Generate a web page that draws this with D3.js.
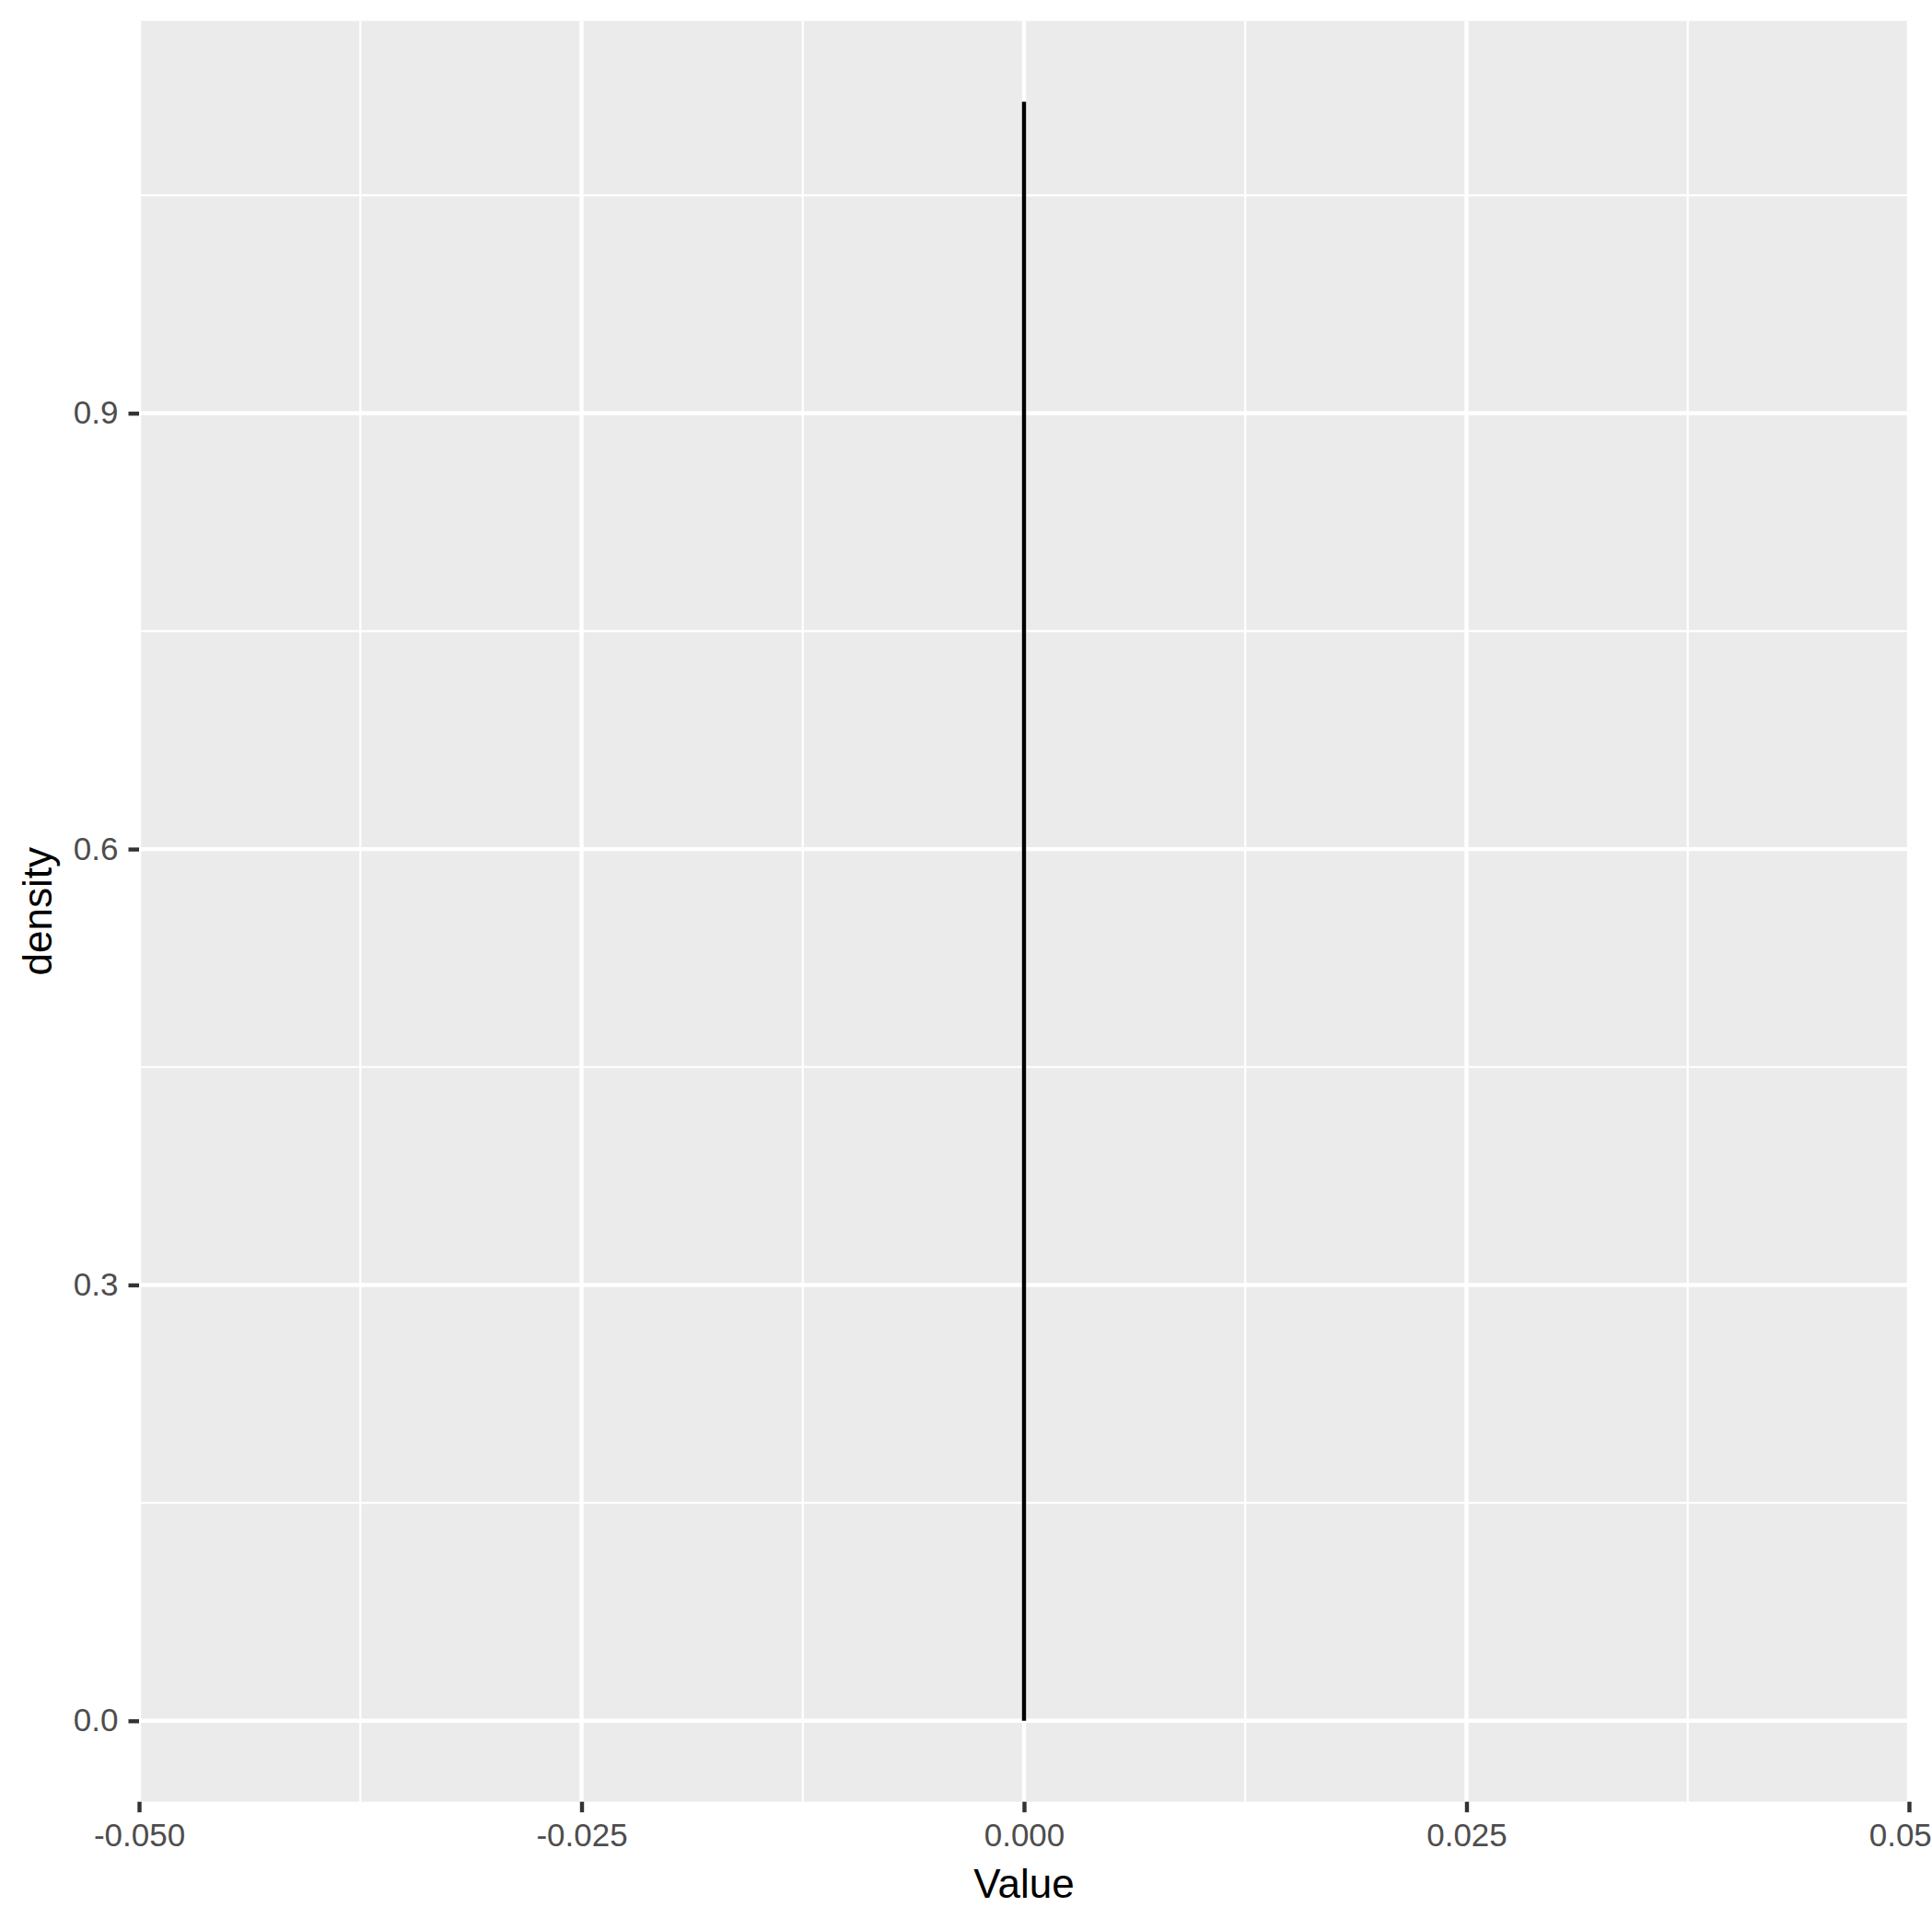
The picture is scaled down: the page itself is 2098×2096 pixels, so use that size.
<!DOCTYPE html>
<html>
<head>
<meta charset="utf-8">
<script src="https://cdn.jsdelivr.net/npm/d3@7"></script>
<style>
  body { margin: 0; background: #fff; }
  text { font-family: "Liberation Sans", Arial, sans-serif; }
</style>
</head>
<body>
<div id="chart"></div>
<script>
// density outline (all the values sit at 0, so the curve is a spike)
var densityX = [0, 0];
var densityY = [0, 1.1143];

// axis breaks
var xMajor = [-0.05, -0.025, 0, 0.025, 0.05];
var xLabels = ["-0.050", "-0.025", "0.000", "0.025", "0.050"];
var xMinor = [-0.0375, -0.0125, 0.0125, 0.0375];
var yMajor = [0, 0.3, 0.6, 0.9];
var yLabels = ["0.0", "0.3", "0.6", "0.9"];
var yMinor = [0.15, 0.45, 0.75, 1.05];

var xTitle = "Value";
var yTitle = "density";

var W = 2098, H = 2096;
var margin = { top: 22.7, right: 25, bottom: 139.3, left: 151 };
var width = W - margin.left - margin.right;
var height = H - margin.top - margin.bottom;

var svg = d3.select("#chart").append("svg")
    .attr("width", W)
    .attr("height", H);

svg.append("rect").attr("width", W).attr("height", H).attr("fill", "#fff");

var g = svg.append("g")
    .attr("transform", "translate(" + margin.left + "," + margin.top + ")");

// scales, y expanded 5% each side like ggplot
var x = d3.scaleLinear().domain([-0.05, 0.05]).range([0, width]);
var yMax = d3.max(densityY), yMin = d3.min(densityY);
var pad = (yMax - yMin) * 0.05;
var y = d3.scaleLinear().domain([yMin - pad, yMax + pad]).range([height, 0]);

// panel background
g.append("rect")
    .attr("width", width)
    .attr("height", height)
    .attr("fill", "#EBEBEB");

// grid lines
g.selectAll(".xminor").data(xMinor).enter().append("line")
    .attr("x1", d => x(d)).attr("x2", d => x(d))
    .attr("y1", 0).attr("y2", height)
    .attr("stroke", "#fff").attr("stroke-width", 2.2);
g.selectAll(".yminor").data(yMinor).enter().append("line")
    .attr("y1", d => y(d)).attr("y2", d => y(d))
    .attr("x1", 0).attr("x2", width)
    .attr("stroke", "#fff").attr("stroke-width", 2.2);
g.selectAll(".xmajor").data(xMajor).enter().append("line")
    .attr("x1", d => x(d)).attr("x2", d => x(d))
    .attr("y1", 0).attr("y2", height)
    .attr("stroke", "#fff").attr("stroke-width", 4.4);
g.selectAll(".ymajor").data(yMajor).enter().append("line")
    .attr("y1", d => y(d)).attr("y2", d => y(d))
    .attr("x1", 0).attr("x2", width)
    .attr("stroke", "#fff").attr("stroke-width", 4.4);

// density line
var pts = densityX.map((d, i) => [d, densityY[i]]);
var line = d3.line().x(d => x(d[0])).y(d => y(d[1]));
g.append("path")
    .datum(pts)
    .attr("d", line)
    .attr("fill", "none")
    .attr("stroke", "#000")
    .attr("stroke-width", 4.4);

// x axis
var xAxis = g.append("g")
    .attr("transform", "translate(0," + height + ")")
    .call(d3.axisBottom(x).tickValues(xMajor)
        .tickFormat((d, i) => xLabels[i])
        .tickSizeInner(11.5).tickSizeOuter(0).tickPadding(12));
xAxis.select(".domain").remove();
xAxis.selectAll("line").attr("stroke", "#333333").attr("stroke-width", 4.4);
xAxis.selectAll("text").attr("fill", "#4D4D4D").attr("font-size", 35)
    .attr("font-family", "Liberation Sans, Arial, sans-serif");

// y axis
var yAxis = g.append("g")
    .call(d3.axisLeft(y).tickValues(yMajor)
        .tickFormat((d, i) => yLabels[i])
        .tickSizeInner(11.5).tickSizeOuter(0).tickPadding(11));
yAxis.select(".domain").remove();
yAxis.selectAll("line").attr("stroke", "#333333").attr("stroke-width", 4.4);
yAxis.selectAll("text").attr("fill", "#4D4D4D").attr("font-size", 35)
    .attr("font-family", "Liberation Sans, Arial, sans-serif");

// titles
svg.append("text")
    .attr("x", margin.left + width / 2)
    .attr("y", 2060.7)
    .attr("text-anchor", "middle")
    .attr("font-size", 44)
    .attr("fill", "#000")
    .text(xTitle);

svg.append("text")
    .attr("transform", "translate(56," + (margin.top + height / 2) + ") rotate(-90)")
    .attr("text-anchor", "middle")
    .attr("font-size", 44)
    .attr("fill", "#000")
    .text(yTitle);
</script>
</body>
</html>
